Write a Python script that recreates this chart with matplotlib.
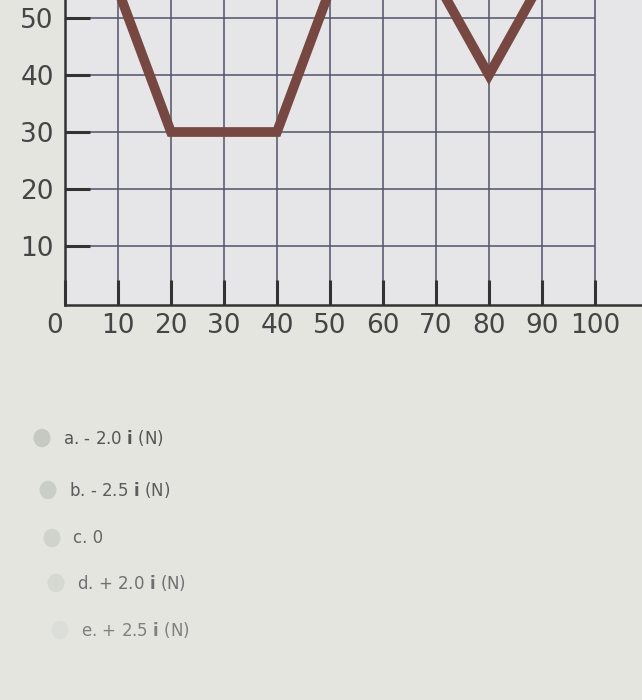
import matplotlib.pyplot as plt
import matplotlib.transforms as mtransforms

t = [6, 20, 40, 54, 68, 80, 92]
p = [65, 30, 30, 65, 60, 40, 60]

x_ticks = [0, 10, 20, 30, 40, 50, 60, 70, 80, 90, 100]
y_ticks = [10, 20, 30, 40, 50]

opciones = [
    r"a. - 2.0 $\mathbf{i}$ (N)",
    r"b. - 2.5 $\mathbf{i}$ (N)",
    "c. 0",
    r"d. + 2.0 $\mathbf{i}$ (N)",
    r"e. + 2.5 $\mathbf{i}$ (N)",
]

fondo = "#e4e5df"
fig = plt.figure(figsize=(6.42, 7.0), dpi=100, facecolor=fondo)
ax = fig.add_axes([65 / 642, 1 - 305 / 700, 577 / 642, 305 / 700])
ax.set_facecolor("#e6e6e8")

ax.set_xlim(0, 108.9)
ax.set_ylim(-0.4, 53.2)

# rejilla solo hasta 100
ax.vlines(x_ticks[1:], -0.4, 53.2, colors="#50536a", lw=1.1, zorder=1)
ax.hlines(y_ticks, 0, 100, colors="#50536a", lw=1.1, zorder=1)

ax.plot(t, p, color="#774741", lw=7, solid_joinstyle="miter", zorder=3)

for s in ["top", "right"]:
    ax.spines[s].set_visible(False)
for s in ["left", "bottom"]:
    ax.spines[s].set_color("#333333")
    ax.spines[s].set_linewidth(1.8)

ax.set_xticks(x_ticks)
ax.set_xticklabels([str(v) for v in x_ticks])
ax.set_yticks(y_ticks)
ax.set_yticklabels([str(v) for v in y_ticks])
ax.tick_params(axis="both", direction="in", length=18, width=2.2, color="#333333",
               labelsize=19, labelcolor="#454545")
ax.tick_params(axis="x", pad=6)
ax.tick_params(axis="y", pad=8)

# el "0" queda un poco a la izquierda del eje
lbl0 = ax.get_xticklabels()[0]
lbl0.set_transform(lbl0.get_transform() + mtransforms.ScaledTranslation(-10 / 100, 0, fig.dpi_scale_trans))

# opciones de respuesta
xs = [42, 48, 52, 56, 60]
ys = [438, 490, 538, 583, 630]
colores = ["#555555", "#5c5c5c", "#666666", "#707070", "#808080"]
circulos = ["#c6c8c2", "#cbcdc7", "#d0d2cc", "#d6d8d2", "#dcdeda"]
for i, txt in enumerate(opciones):
    fig.patches.append(plt.Circle((xs[i] / 642, 1 - ys[i] / 700), 8.5 / 642,
                                  transform=fig.transFigure, facecolor=circulos[i],
                                  edgecolor="none"))
    fig.text((xs[i] + 21) / 642, 1 - ys[i] / 700, txt, fontsize=12,
             color=colores[i], va="center", ha="left")

fig.savefig("out.png", dpi=100, facecolor=fondo)
